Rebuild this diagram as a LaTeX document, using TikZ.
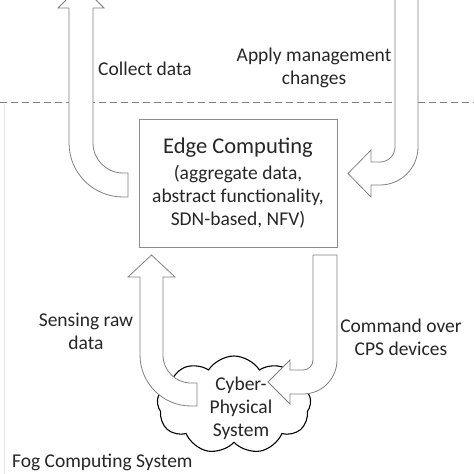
\documentclass[tikz,border=0pt]{standalone}
\usepackage{fontspec}
\setmainfont{Carlito}
\usepackage{xcolor}
\usepackage{tikz}
\usetikzlibrary{positioning,shapes.symbols}

\begin{document}
\begin{tikzpicture}[
  x=1pt, y=-1pt,
  every node/.style={font=\fontsize{19.5}{23}\selectfont, text=black!85, inner sep=0pt},
  box/.style={draw=black!45, line width=0.9pt, minimum width=198pt, minimum height=128pt, align=center},
  blockarr/.style={draw=black!50, line width=0.8pt, fill=white, line join=miter},
  lbl/.style={align=center},
  cloudshape/.style={cloud, cloud puffs=9, cloud puff arc=115, aspect=1.6, draw=black,
                     line width=1.1pt, fill=white, minimum width=154pt, minimum height=98pt},
  sep/.style={draw=black!50, line width=0.8pt, dash pattern=on 7pt off 4pt}
]
  \useasboundingbox (0,0) rectangle (474,474);
  \clip (0,0) rectangle (474,474);
  % Fog / cloud boundary
  \draw[sep] (0,102) -- (474,102);
  \draw[black!10, line width=0.6pt] (4,104) -- (4,474);
  % Nodes
  \node[box] (edge) at (238,183) {{\fontsize{22.5}{26}\selectfont Edge Computing}\\[3pt]
    (aggregate data,\\abstract functionality,\\SDN-based, NFV)};
  \node[cloudshape] (cps) at (234,405) {};
  \node[lbl] (cpstext) at (241,408) {Cyber-\\Physical\\System};
  % Block arrows
  \draw[blockarr] (128,173) -- (123,173) arc[start angle=90,end angle=180,radius=30]
    -- (93,8) -- (104,8) -- (81,-15) -- (58,8) -- (69,8) -- (69,143)
    arc[start angle=180,end angle=90,radius=54] -- (128,197) -- cycle;
  \draw[blockarr] (395,-5) -- (395,147) arc[start angle=0,end angle=90,radius=15]
    -- (371,162) -- (371,150) -- (348,173.5) -- (371,197) -- (371,185) -- (380,185)
    arc[start angle=90,end angle=0,radius=38] -- (418,-5) -- cycle;
  \draw[blockarr] (197,383) -- (191,383) arc[start angle=90,end angle=180,radius=28]
    -- (163,277) -- (175,277) -- (151.5,255) -- (128,277) -- (140,277) -- (140,355)
    arc[start angle=180,end angle=90,radius=51] -- (197,406) -- cycle;
  \draw[blockarr] (313,255) -- (313,360) arc[start angle=0,end angle=90,radius=10]
    -- (290,370) -- (290,360) -- (268,382) -- (290,404) -- (290,394) -- (303,394)
    arc[start angle=90,end angle=0,radius=34] -- (337,255) -- cycle;
  % Labels
  \node[lbl] (collect) at (145,69) {Collect data};
  \node[lbl] (apply) at (314,68) {Apply management\\changes};
  \node[lbl] (sensing) at (86,331) {Sensing raw\\data};
  \node[lbl] (command) at (401,337) {Command over\\CPS devices};
  \node[anchor=base west] (fog) at (12,467) {Fog Computing System};
\end{tikzpicture}
\end{document}
